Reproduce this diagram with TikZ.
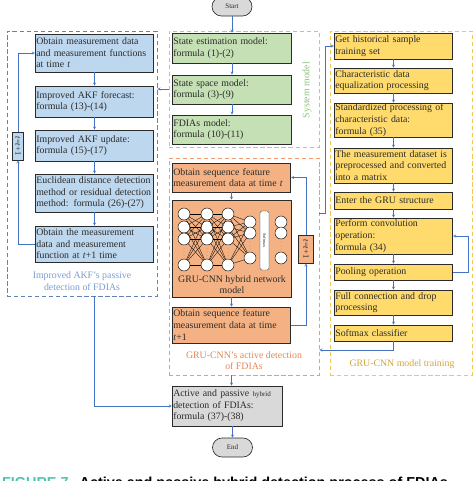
\documentclass[tikz,border=0pt]{standalone}
\usepackage{fontspec}
\setmainfont{Liberation Serif}
\setsansfont{Liberation Sans}
\usepackage{graphicx}
\usepackage{xcolor}
\definecolor{flowink}{HTML}{2B2B2B}
\definecolor{flowarrow}{HTML}{4472C4}
\definecolor{akffill}{HTML}{BDD7EE}
\definecolor{akfframe}{HTML}{6283B5}
\definecolor{akftext}{HTML}{7A9CCF}
\definecolor{sysfill}{HTML}{C5E0B4}
\definecolor{sysframe}{HTML}{A9D18E}
\definecolor{systext}{HTML}{8DBF7E}
\definecolor{grufill}{HTML}{F4B183}
\definecolor{gruframe}{HTML}{F09A6E}
\definecolor{grutext}{HTML}{E0875A}
\definecolor{trainfill}{HTML}{FFDB6E}
\definecolor{trainframe}{HTML}{F2C94C}
\definecolor{traintext}{HTML}{CDA83A}
\definecolor{termfill}{HTML}{D9D9D9}
\definecolor{capcyan}{HTML}{4CC3AE}
\newcommand{\boxfont}{\fontsize{14}{16.5}\selectfont}

\begin{document}
\begin{tikzpicture}[x=0.5mm, y=-0.5mm, >=stealth,
                    every node/.style={flowink, font=\boxfont},
                    flowbox/.style={draw=flowink, line width=0.9pt, align=left,
                                    inner xsep=1.5pt, inner ysep=0.5pt},
                    akfbox/.style={flowbox, fill=akffill, text width=165.5pt},
                    sysbox/.style={flowbox, fill=sysfill, text width=167pt},
                    grubox/.style={flowbox, fill=grufill, text width=165.5pt},
                    trainbox/.style={flowbox, fill=trainfill, text width=165.5pt},
                    groupframe/.style={dash pattern=on 6pt off 4pt, line width=0.9pt,
                                       inner sep=0pt},
                    grouplabel/.style={align=center},
                    flowline/.style={flowarrow, line width=1pt},
                    terminal/.style={draw=flowink, fill=termfill, line width=0.9pt,
                                     rounded corners=4.75mm, minimum width=20mm,
                                     minimum height=9.5mm, font=\fontsize{10}{12}\selectfont},
                    stepbox/.style={draw=flowink, line width=0.9pt, inner sep=0pt,
                                    minimum height=14mm, font=\fontsize{12}{13}\selectfont},
                    neuron/.style={circle, draw=black, fill=white, line width=0.6pt,
                                   minimum size=6mm, inner sep=0pt},
                    nnlink/.style={black, line width=0.45pt}]

  \useasboundingbox (0,0) rectangle (474,481);

  %% ---- the four dashed groups ----
  \node[groupframe, draw=akfframe, minimum width=75mm, minimum height=132.5mm]
    (akfgroup) at (82,163.5) {};
  \node[groupframe, draw=sysframe, minimum width=75mm, minimum height=58mm]
    (sysgroup) at (244,89) {};
  \node[groupframe, draw=gruframe, minimum width=75mm, minimum height=108.5mm]
    (gruact) at (244,266.5) {};
  \node[groupframe, draw=trainframe, minimum width=71mm, minimum height=172mm]
    (traingroup) at (401,203) {};

  \node[grouplabel, akftext] (akflabel) at (82,281) {Improved AKF's passive\\detection of FDIAs};
  \node[grouplabel, systext, rotate=90] (syslabel) at (307,90) {System model};
  \node[grouplabel, grutext] (grulabel) at (244,360.5) {GRU-CNN's active detection\\of FDIAs};
  \node[grouplabel, traintext] (trainlabel) at (402,364) {GRU-CNN model training};

  %% ---- start and system model ----
  \node[terminal] (start) at (232,6.5) {Start};
  \node[sysbox, minimum height=15mm] (sys1) at (232,48) {State estimation model:\\formula (1)-(2)};
  \node[sysbox, minimum height=14.5mm] (sys2) at (232,89.5) {State space model:\\formula (3)-(9)};
  \node[sysbox, minimum height=14.5mm] (sys3) at (232,129.5) {FDIAs model:\\formula (10)-(11)};

  %% ---- passive detection (improved AKF) ----
  \node[akfbox, minimum height=19mm] (akf1) at (94.5,53)
    {Obtain measurement data\\and measurement functions\\at time \textit{t}};
  \node[akfbox, minimum height=15.5mm] (akf2) at (94.5,101.5) {Improved AKF forecast:\\formula (13)-(14)};
  \node[akfbox, minimum height=15.5mm] (akf3) at (94.5,145.5) {Improved AKF update:\\formula (15)-(17)};
  \node[akfbox, minimum height=19mm] (akf4) at (94.5,193)
    {Euclidean distance detection\\method or residual detection\\method: formula (26)-(27)};
  \node[akfbox, minimum height=18mm] (akf5) at (94.5,244)
    {Obtain the measurement\\data and measurement\\function at \textit{t}+1 time};
  \node[stepbox, fill=akffill, minimum width=5.5mm] (akfstep) at (18,146)
    {\rotatebox{-90}{\textit{t}=\textit{t}+1}};

  %% ---- active detection (GRU-CNN) ----
  \node[grubox, minimum height=14.5mm] (gru1) at (231.5,177.5)
    {Obtain sequence feature\\measurement data at time \textit{t}};
  \node[flowbox, fill=grufill, minimum width=59.5mm, minimum height=48.5mm] (nnbox) at (231.5,248.5) {};
  \node[grubox, minimum height=18mm] (gru2) at (231.5,325)
    {Obtain sequence feature\\measurement data at time\\\textit{t}+1};
  \node[stepbox, fill=grufill, minimum width=7.5mm] (grustep) at (306,249)
    {\rotatebox{-90}{\textit{t}=\textit{t}+1}};

  %% network sketch inside the model box
  \foreach \c/\x in {1/184,2/207,3/228} {
    \foreach \r/\y in {1/214,2/227,3/239,4/265}
      \node[neuron] (n\c\r) at (\x,\y) {};
    \foreach \y in {248.5,252,255.5}
      \fill (\x,\y) circle (0.35pt);
  }
  \foreach \r/\y in {1/222,2/233,3/258} {
    \node[neuron] (n4\r) at (250,\y) {};
    \node[neuron] (n6\r) at (281,\y) {};
  }
  \foreach \x in {250,281}
    \foreach \y in {242,245.5,249}
      \fill (\x,\y) circle (0.35pt);
  \foreach \a/\b in {1/2,2/3}
    \foreach \i in {1,...,4}
      \foreach \j in {1,...,4}
        \draw[nnlink] (n\a\i) -- (n\b\j);
  \foreach \i in {1,...,4}
    \foreach \j in {1,2,3}
      \draw[nnlink] (n3\i) -- (n4\j);
  \node[draw=flowink, fill=white, line width=0.6pt, rounded corners=0.8mm, inner sep=0pt,
        minimum width=4.5mm, minimum height=29.5mm, font=\fontsize{6}{7}\selectfont]
    (softmax) at (264.5,240.5) {\rotatebox{-90}{Softmax}};
  \node[align=center] (nnlabel) at (232,284.5) {GRU-CNN hybrid network\\model};

  %% ---- model training ----
  \node[trainbox, minimum height=13mm] (train1) at (393.5,46) {Get historical sample\\training set};
  \node[trainbox, minimum height=12.5mm] (train2) at (393.5,80.5) {Characteristic data\\equalization processing};
  \node[trainbox, minimum height=17mm] (train3) at (393.5,120)
    {Standardized processing of\\characteristic data:\\formula (35)};
  \node[trainbox, minimum height=17.5mm] (train4) at (393.5,165.5)
    {The measurement dataset is\\preprocessed and converted\\into a matrix};
  \node[trainbox, minimum height=8.5mm] (train5) at (393.5,200.5) {Enter the GRU structure};
  \node[trainbox, minimum height=18mm] (train6) at (393.5,236) {Perform convolution\\operation:\\formula (34)};
  \node[trainbox, minimum height=8mm] (train7) at (393.5,272) {Pooling operation};
  \node[trainbox, minimum height=12.5mm] (train8) at (393.5,302.5) {Full connection and drop\\processing};
  \node[trainbox, minimum height=8mm] (train9) at (393.5,333) {Softmax classifier};

  %% ---- hybrid detection and end ----
  \node[flowbox, fill=termfill, text width=154.3pt, minimum height=20mm] (hybrid) at (227.5,406)
    {Active and passive {\fontsize{10}{12}\selectfont hybrid}\\detection of FDIAs:\\formula (37)-(38)};
  \node[terminal] (finish) at (232.5,447.5) {End};

  %% ---- connectors ----
  \draw[flowline, ->] (start) -- (sys1);
  \draw[flowline, ->] (sys1) -- (sys2);
  \draw[flowline, ->] (sys2) -- (sys3);
  \draw[flowline, ->] (sysgroup.west) -- (sysgroup.west -| akfgroup.east);

  \draw[flowline, ->] (akf1) -- (akf2);
  \draw[flowline, ->] (akf2) -- (akf3);
  \draw[flowline, ->] (akf3) -- (akf4);
  \draw[flowline, ->] (akf4) -- (akf5);
  \draw[flowline, ->] (akf5.west) -| (akfstep.south);
  \draw[flowline, ->] (akfstep.north) |- (akf1.west);

  \draw[flowline, ->] (gru1) -- (nnbox);
  \draw[flowline, ->] (nnbox) -- (gru2);
  \draw[flowline, ->] (gru2.east) -| (grustep.south);
  \draw[flowline, ->] (grustep.north) |- (gru1.east);

  \coordinate (gruout) at (319,213);
  \draw[flowline, ->] (gruout) -- ++(6,0) |- (train1.west);
  \draw[flowline, ->] (train1) -- (train2);
  \draw[flowline, ->] (train2) -- (train3);
  \draw[flowline, ->] (train3) -- (train4);
  \draw[flowline, ->] (train4) -- (train5);
  \draw[flowline, ->] (train5) -- (train6);
  \draw[flowline, ->] (train6) -- (train7);
  \draw[flowline, ->] (train7) -- (train8);
  \draw[flowline, ->] (train8) -- (train9);
  \draw[flowline, ->] (train7.east) -- ++(15,0) |- (train6.east);
  \draw[flowline, ->] (train9.south) |- (gruact.east |- 0,350);

  \draw[flowline, ->] (gruact.south -| gru2) -- (hybrid.north -| gru2);
  \draw[flowline, ->] (akfgroup.south -| akf5) |- (hybrid.west);
  \draw[flowline, ->] (hybrid.south -| finish) -- (finish);

  %% caption, cut by the lower edge
  \node[anchor=base west, inner sep=0pt, black, font=\sffamily\bfseries\fontsize{20.5}{24}\selectfont]
    (caption) at (2,487) {\textcolor{capcyan}{FIGURE 7.}\hspace{10pt}Active and passive hybrid detection process of FDIAs};

\end{tikzpicture}
\end{document}
